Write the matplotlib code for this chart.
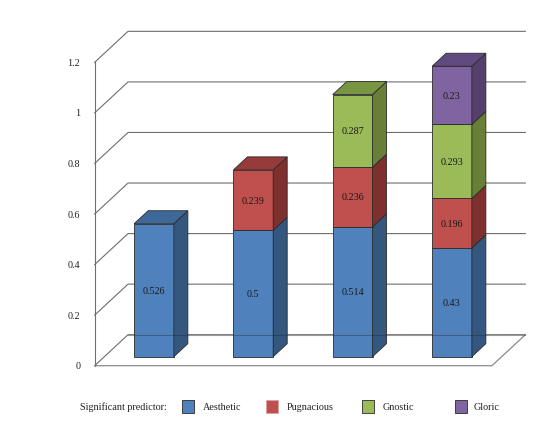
import matplotlib
matplotlib.use("Agg")
import matplotlib.pyplot as plt
from matplotlib.patches import Polygon, Rectangle

# ── data ───────────────────────────────────────────────────────────────────────
series    = ["Aesthetic", "Pugnacious", "Gnostic", "Gloric"]
aesthetic = [0.526, 0.5, 0.514, 0.43]
pugnacious = [0.0, 0.239, 0.236, 0.196]
gnostic   = [0.0, 0.0, 0.287, 0.293]
gloric    = [0.0, 0.0, 0.0, 0.23]
yticks    = [0, 0.2, 0.4, 0.6, 0.8, 1.0, 1.2]
ytick_labels = ["0", "0.2", "0.4", "0.6", "0.8", "1", "1.2"]
legend_title = "Significant predictor:"

# ── colours: front, side, top ─────────────────────────────────────────────────
COLORS = {
    "Aesthetic":  ("#4F81BD", "#34577F", "#3E6897"),
    "Pugnacious": ("#C0504D", "#7E302E", "#963B39"),
    "Gnostic":    ("#9BBB59", "#697F38", "#789541"),
    "Gloric":     ("#8064A2", "#54406B", "#614B7E"),
}
EDGE = "#2a2a2a"
GRID = "#6e6e6e"
FONT = "Liberation Serif"

# ── geometry (pixels) ─────────────────────────────────────────────────────────
W, H = 553, 439
PX_CAT = 99.33          # px per category
PX_VAL = 252.8          # px per unit value
X0_PX, Y0_PX = 154, 357.7   # centre of first bar / zero of bar front plane
DX = 14.0 / PX_CAT      # depth shift per depth unit (category units)
DY = 13.0 / PX_VAL      # depth shift per depth unit (value units)
D_FRONT, D_BACK = -0.692, 1.692
BAR_W = 0.40

fig = plt.figure(figsize=(W / 100, H / 100), dpi=100)
ax = fig.add_axes([0, 0, 1, 1])
ax.set_xlim(-X0_PX / PX_CAT, (W - X0_PX) / PX_CAT)
ax.set_ylim((Y0_PX - H) / PX_VAL, Y0_PX / PX_VAL)
ax.axis("off")


def P(x, v, d):
    return (x + d * DX, v + d * DY)


n = len(aesthetic)
xl, xr = -0.5, n - 0.5

# walls / gridlines
for v in yticks:
    ax.plot(*zip(P(xl, v, D_FRONT), P(xl, v, D_BACK), P(xr, v, D_BACK)),
            color=GRID, lw=0.8, zorder=1)
ax.plot(*zip(P(xl, 0, D_FRONT), P(xl, yticks[-1], D_FRONT)), color=GRID, lw=0.8, zorder=1)
# floor
ax.plot(*zip(P(xl, 0, D_FRONT), P(xr, 0, D_FRONT), P(xr, 0, D_BACK)),
        color="#8a8a8a", lw=0.9, zorder=1)

# tick labels
for v, lab in zip(yticks, ytick_labels):
    x, y = P(xl, v, D_FRONT)
    ax.text(x - 14.5 / PX_CAT, y, lab, ha="right", va="center",
            fontsize=7.3, family=FONT, color="#222222")

# bars
stack = [aesthetic, pugnacious, gnostic, gloric]
for i in range(n):
    x0, x1 = i - BAR_W / 2, i + BAR_W / 2
    bottom = 0.0
    segs = [(name, vals[i]) for name, vals in zip(series, stack) if vals[i] > 0]
    for k, (name, val) in enumerate(segs):
        front, side, top = COLORS[name]
        b, t = bottom, bottom + val
        ax.add_patch(Polygon([P(x0, b, 0), P(x1, b, 0), P(x1, t, 0), P(x0, t, 0)],
                             closed=True, fc=front, ec=EDGE, lw=0.6, zorder=3))
        ax.add_patch(Polygon([P(x1, b, 0), P(x1, b, 1), P(x1, t, 1), P(x1, t, 0)],
                             closed=True, fc=side, ec=EDGE, lw=0.6, zorder=3))
        if k == len(segs) - 1:
            ax.add_patch(Polygon([P(x0, t, 0), P(x1, t, 0), P(x1, t, 1), P(x0, t, 1)],
                                 closed=True, fc=top, ec=EDGE, lw=0.6, zorder=3))
        ax.text(i, (b + t) / 2, f"{val:g}", ha="center", va="center",
                fontsize=7.3, family=FONT, color="#1a1a1a", zorder=5)
        bottom = t

# floor back line faintly visible through bars
ax.plot(*zip(P(xl, 0, D_BACK), P(xr, 0, D_BACK)), color="#222222", lw=0.8,
        alpha=0.35, zorder=4)

# legend (figure pixels)
def fx(px):
    return px / W


def fy(py):
    return 1 - py / H


fig.text(fx(80), fy(407.5), legend_title, ha="left", va="center",
         fontsize=7.3, family=FONT, color="#222222")
box_x = [182, 266, 362, 455]
text_x = [203, 287, 383, 474]
for name, bx, tx in zip(series, box_x, text_x):
    fig.patches.append(Rectangle((fx(bx), fy(414)), 12 / W, 13 / H,
                                 transform=fig.transFigure, fc=COLORS[name][0],
                                 ec=EDGE if name != "Pugnacious" else "#d9a0a0",
                                 lw=0.6))
    fig.text(fx(tx), fy(407.5), name, ha="left", va="center",
             fontsize=7.3, family=FONT, color="#222222")

fig.savefig("out.png", dpi=100, facecolor="white")
